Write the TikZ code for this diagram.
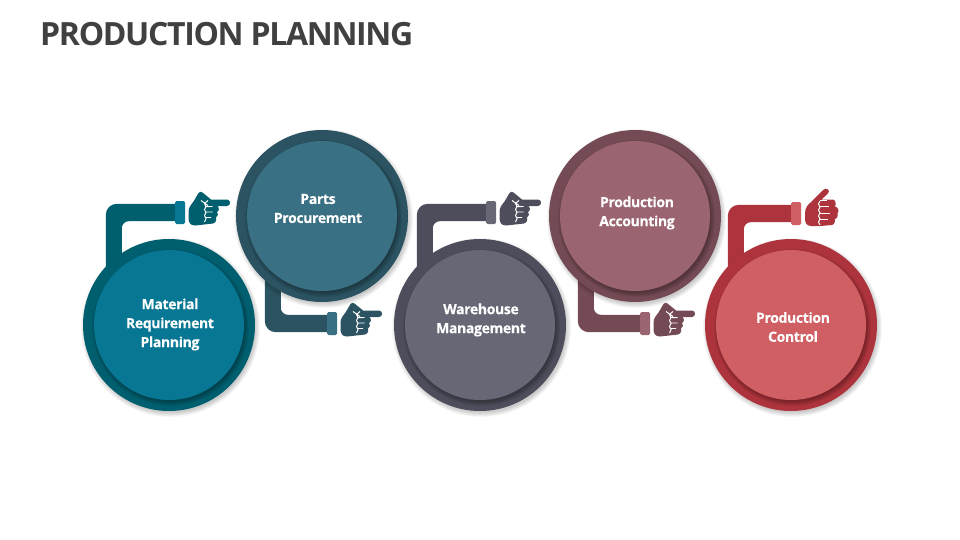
\documentclass[tikz,border=0pt]{standalone}
\usepackage{fontspec}
\setmainfont[LetterSpace=-2.5,BoldFeatures={FakeBold=0.25}]{Open Sans}
\newfontfamily\titlefont[LetterSpace=-4.2]{Open Sans}
\usetikzlibrary{calc,backgrounds}
\definecolor{tealO}{HTML}{005F6F}\definecolor{tealI}{HTML}{077793}
\definecolor{blueO}{HTML}{2B5361}\definecolor{blueI}{HTML}{3A7083}
\definecolor{grayO}{HTML}{4D4D5B}\definecolor{grayI}{HTML}{666875}
\definecolor{wineO}{HTML}{744A54}\definecolor{wineI}{HTML}{9A6570}
\definecolor{redO}{HTML}{AD343C}\definecolor{redI}{HTML}{CF5F63}
\definecolor{titlecol}{HTML}{404040}
\tikzset{
  outerdisc/.style={circle,fill=#1,minimum size=172pt,inner sep=0pt},
  innerdisc/.style={circle,fill=#1,minimum size=150pt,inner sep=0pt},
  cuffbox/.style={rounded corners=1.5pt,fill=#1,minimum width=10pt,minimum height=23pt,inner sep=0pt},
  lbl/.style={text=white,font=\fontsize{14}{19}\selectfont\bfseries,align=center,inner sep=0pt},
}
% disc pair with soft shadows: name, centre, outer colour, inner colour
\newcommand\disc[4]{%
  \foreach \d in {0,1,2,3,4,5}{\fill[black,opacity=.035] ($(#2)+(1.5,2.5)$) circle ({85+\d*.9 pt});}
  \node[outerdisc=#3] (#1) at (#2) {};
  \begin{scope}
    \clip (#1) circle (86pt);
    \foreach \d in {0,1,2,3,4,5}{\fill[black,opacity=.05] ($(#1)+(1.5,2.5)$) circle ({74+\d*.9 pt});}
  \end{scope}
  \node[innerdisc=#4] (#1i) at (#1) {};
}
% arm: colour, cuff, circle, horizontal reach, side sign
\newcommand\arm[5]{%
  \coordinate (o) at ($(#2.west)+(-#4,#5*8.7)$);
  \coordinate (i) at ($(#2.west)+(-#4+16,#5*-8.7)$);
  \fill[#1] [rounded corners=11pt] ($(#2.west |- o)+(1,0)$) -- (o) [sharp corners] -- (o |- #3) -- (i |- #3) [rounded corners=7pt] -- (i) [sharp corners] -- ($(#2.west |- i)+(1,0)$) -- cycle;
}
\newcommand\pointhand[2]{%
  \begin{scope}[shift={(#1.center)},shift={(-180,-212.5)}]
    \fill[#2] (188.5,212) .. controls (188.5,207) and (191,205) .. (193.5,201.5) -- (198.5,193)
      .. controls (199.5,191.5) and (201,191.5) .. (202.5,192.5) -- (211,199.5) -- (227,199.5)
      .. controls (231,199.5) and (231,206) .. (227,206) -- (217,206)
      .. controls (219.5,207) and (219.5,211) .. (217,212)
      .. controls (218.5,213) and (218.5,216.5) .. (216,217.5)
      .. controls (216.5,219) and (216.5,222.5) .. (213,223.5)
      -- (204,224.5) -- (195,225.5) .. controls (190,225.5) and (188.5,222) .. (188.5,218) -- cycle;
    \draw[white,line width=1pt] (201,200.5) -- (208,205.5) (208,200.5) -- (204.5,203.5)
      .. controls (206.5,205.5) and (206.5,207.5) .. (204.5,209.5)
      .. controls (206.5,211.5) and (206.5,213.5) .. (204.5,215.5)
      .. controls (206.5,217.5) and (206.5,219.5) .. (204.5,222);
    \draw[white,line width=.9pt] (205,206.7) -- (212.5,206.5) (205,212) -- (212.5,212) (205,217.5) -- (211,217.5);
  \end{scope}
}
\newcommand\thumbhand[2]{%
  \begin{scope}[shift={(#1.center)},shift={(-796,-213.5)}]
    \fill[#2] (805,214) .. controls (805,207) and (808,205) .. (810,203) -- (823,190)
      .. controls (826,187) and (831,190) .. (828,193.5) -- (821.5,199.5) -- (833,199.5)
      .. controls (836,200) and (836,205) .. (835,206.5)
      .. controls (839,207) and (839,212.5) .. (837.5,213)
      .. controls (838,214) and (838,218.5) .. (835,219)
      .. controls (835,220) and (835,224.5) .. (832,225)
      -- (820,226) -- (811,226) .. controls (806,226) and (805,222) .. (805,218) -- cycle;
    \draw[white,line width=1pt] (820,201) .. controls (818,203) and (818,205) .. (820,207)
      .. controls (818,209) and (818,211) .. (820,213)
      .. controls (818,215) and (818,217) .. (820,219)
      .. controls (818,221) and (818,223) .. (820,225);
    \draw[white,line width=.9pt] (820,200) -- (827,200) (820,206.5) -- (829,206.5) (820,213) -- (830,213) (820,219) -- (828,219);
  \end{scope}
}
\begin{document}
\begin{tikzpicture}[x=1pt,y=-1pt]
\useasboundingbox (0,0) rectangle (960,540);
\node[anchor=west,text=titlecol,font=\titlefont\fontsize{32}{36}\selectfont\bfseries,inner sep=0pt] (title) at (40,34.5) {PRODUCTION PLANNING};
\disc{mat}{169,325}{tealO}{tealI}
\disc{par}{322,216}{blueO}{blueI}
\disc{war}{480,325}{grayO}{grayI}
\disc{acc}{635,216}{wineO}{wineI}
\disc{con}{791,325}{redO}{redI}
\node[cuffbox=tealI] (c1) at (180,212.5) {};
\node[cuffbox=blueI] (c2) at (332,323.5) {};
\node[cuffbox=grayI] (c3) at (491,212.5) {};
\node[cuffbox=wineI] (c4) at (645,323.5) {};
\node[cuffbox=redI] (c5) at (796,213.5) {};
\begin{pgfonlayer}{background}
\fill[white] (0,0) rectangle (960,540);
\arm{tealO}{c1}{mat}{69}{-1}
\arm{blueO}{c2}{par}{62}{1}
\arm{grayO}{c3}{war}{69}{-1}
\arm{wineO}{c4}{acc}{62}{1}
\arm{redO}{c5}{con}{63}{-1}
\end{pgfonlayer}
\pointhand{c1}{tealO}
\pointhand{c2}{blueO}
\pointhand{c3}{grayO}
\pointhand{c4}{wineO}
\thumbhand{c5}{redO}
\node[lbl] (t1) at (170,324.5) {Material\\Requirement\\Planning};
\node[lbl] (t2) at (318,208.5) {Parts\\Procurement};
\node[lbl] (t3) at (481,320) {Warehouse\\Management};
\node[lbl] (t4) at (637,213) {Production\\Accounting};
\node[lbl] (t5) at (793,327) {Production\\Control};
\end{tikzpicture}
\end{document}
